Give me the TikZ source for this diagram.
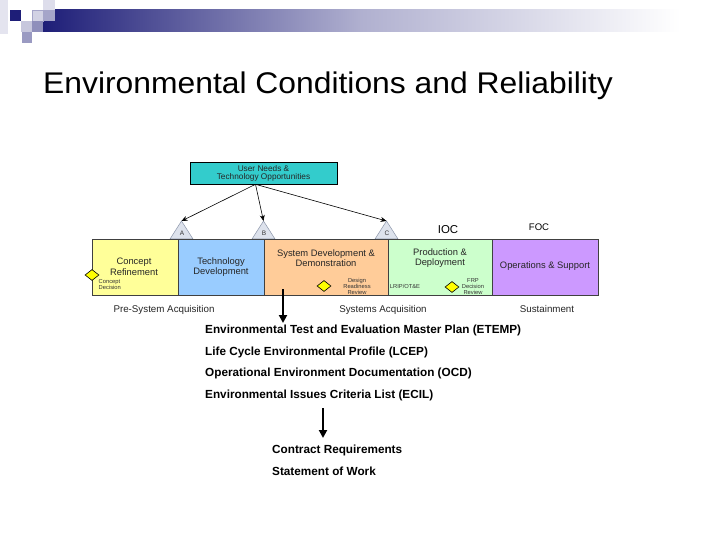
\documentclass[tikz,border=0pt]{standalone}
\usepackage{fontspec}
\setmainfont{Liberation Sans}
\usetikzlibrary{shapes.geometric,arrows.meta,calc}
\definecolor{navyb}{RGB}{30,30,120}
\definecolor{tealbox}{RGB}{51,204,204}
\definecolor{cryel}{RGB}{255,255,153}
\definecolor{tdblue}{RGB}{153,204,255}
\definecolor{sddpeach}{RGB}{255,204,153}
\definecolor{pdgreen}{RGB}{204,255,204}
\definecolor{osviolet}{RGB}{204,153,255}
\definecolor{trifill}{RGB}{221,226,236}
\definecolor{triedge}{RGB}{140,150,170}
\definecolor{diayel}{RGB}{255,255,0}
\tikzset{
  fs/.style 2 args={font=\fontsize{#1}{#2}\selectfont},
  seg/.style={draw=black!75, line width=0.6bp, anchor=north west, minimum height=56bp, inner sep=0},
  segtext/.style={fs={9.4}{9.4}, align=center, text=black!85, inner sep=0},
  tiny/.style={fs={5.8}{5.8}, align=center, text=black!80, inner sep=0},
  dia/.style={diamond, draw=black, line width=0.6bp, fill=diayel, minimum width=14bp, minimum height=11bp, inner sep=0},
  tri/.style={draw=triedge, fill=trifill, line width=0.5bp},
  thin arrow/.style={-{Stealth[length=6bp,width=5bp]}, line width=0.6bp},
  thick arrow/.style={-{Triangle[length=8bp,width=8bp]}, line width=2.5bp},
  listtext/.style={font=\bfseries\fontsize{11.8}{11.8}\selectfont, anchor=base west, inner sep=0},
  phase/.style={fs={9.8}{9.8}, inner sep=0, text=black!85, anchor=base},
}
\begin{document}
\begin{tikzpicture}[x=1bp,y=-1bp]
\useasboundingbox (0,0) rectangle (720,540);
\fill[white] (0,0) rectangle (720,540);
% header decoration
\shade[left color=navyb, right color=white, middle color=navyb!35!white] (43,10) rectangle (680,32);
\fill[navyb!12!white] (0,0) rectangle (8,34);
\fill[navyb] (10,10) rectangle (21,21);
\fill[navyb!25!white] (21,21) rectangle (32,32);
\fill[navyb!45!white] (22,32) rectangle (32,43);
\fill[navyb!20!white] (32,10) rectangle (43,21);
\draw[navyb!40!white, line width=0.5bp] (32,10) rectangle (43,21);
\fill[navyb!50!white] (32,21) rectangle (43,32);
\fill[navyb!15!white] (43,0) rectangle (55,10);
\fill[navyb!40!white] (43,10) rectangle (55,21);
% title
\node[fs={30}{30}, anchor=base west, inner sep=0, xscale=1.065] (title) at (43,94) {Environmental Conditions and Reliability};
% user needs box
\node[draw=black, line width=0.6bp, fill=tealbox, minimum width=147bp, minimum height=22bp, fs={8.3}{8.3}, align=center, inner sep=0, text=black!85] (un) at (263.5,173) {User Needs \&\\Technology Opportunities};
\coordinate (src) at ($(un.south)+(-8,0)$);
% milestone triangles
\draw[tri] (170,239) -- (181.5,221) -- (193,239) -- cycle;
\draw[tri] (252,239) -- (263.5,221) -- (275,239) -- cycle;
\draw[tri] (375,239) -- (386.5,221) -- (398,239) -- cycle;
\coordinate (tA) at (181.5,221);
\coordinate (tB) at (263.5,221);
\coordinate (tC) at (386.5,221);
\node[tiny, fs={6.5}{6.5}] (lA) at (182,233) {A};
\node[tiny, fs={6.5}{6.5}] (lB) at (264,233) {B};
\node[tiny, fs={6.5}{6.5}] (lC) at (387,233) {C};
\draw[thin arrow] (src) -- (tA);
\draw[thin arrow] (src) -- (tB);
\draw[thin arrow] (src) -- (tC);
% phase bar
\node[seg, fill=cryel, minimum width=86bp] (cr) at (92,239) {};
\node[seg, fill=tdblue, minimum width=86bp] (td) at (178,239) {};
\node[seg, fill=sddpeach, minimum width=124bp] (sdd) at (264,239) {};
\node[seg, fill=pdgreen, minimum width=104bp] (pd) at (388,239) {};
\node[seg, fill=osviolet, minimum width=106bp] (os) at (492,239) {};
\node[segtext] (crt) at (134,266.5) {Concept\\[1.5bp]Refinement};
\node[segtext] (tdt) at (221,267) {Technology\\Development};
\node[segtext] (sddt) at (326,258) {System Development \&\\Demonstration};
\node[segtext] (pdt) at (440,258) {Production \&\\Deployment};
\node[segtext] (ost) at (545,266.5) {Operations \& Support};
% milestones labels
\node[fs={11.5}{11.5}, inner sep=0] (ioc) at (448,230) {IOC};
\node[fs={9.6}{9.6}, inner sep=0] (foc) at (539,227.5) {FOC};
% diamonds
\node[dia] (d1) at (92,275) {};
\node[tiny, anchor=north west, align=left] (cd) at (98.5,279.5) {Concept\\Decision};
\node[dia] (d2) at (324,286) {};
\node[tiny] (drr) at (357,286.5) {Design\\Readiness\\Review};
\node[tiny] (lrip) at (405,286.5) {LRIP/OT\&E};
\node[dia] (d3) at (452,287) {};
\node[tiny] (frp) at (473,286.5) {FRP\\Decision\\Review};
% phase labels
\node[phase] (p1) at (164,312) {Pre-System Acquisition};
\node[phase] (p2) at (383,312) {Systems Acquisition};
\node[phase] (p3) at (547,312) {Sustainment};
% lists
\node[listtext] (l1) at (205,333.3) {Environmental Test and Evaluation Master Plan (ETEMP)};
\node[listtext] (l2) at (205,355) {Life Cycle Environmental Profile (LCEP)};
\node[listtext] (l3) at (205,376.7) {Operational Environment Documentation (OCD)};
\node[listtext] (l4) at (205,398.3) {Environmental Issues Criteria List (ECIL)};
\node[listtext] (c1) at (272,453) {Contract Requirements};
\node[listtext] (c2) at (272,475) {Statement of Work};
% thick arrows
\coordinate (a1s) at (283,289);
\coordinate (a1e) at (283,323);
\draw[thick arrow] (a1s) -- (a1e);
\coordinate (a2s) at (323,408);
\coordinate (a2e) at (323,438);
\draw[thick arrow] (a2s) -- (a2e);
\end{tikzpicture}
\end{document}
